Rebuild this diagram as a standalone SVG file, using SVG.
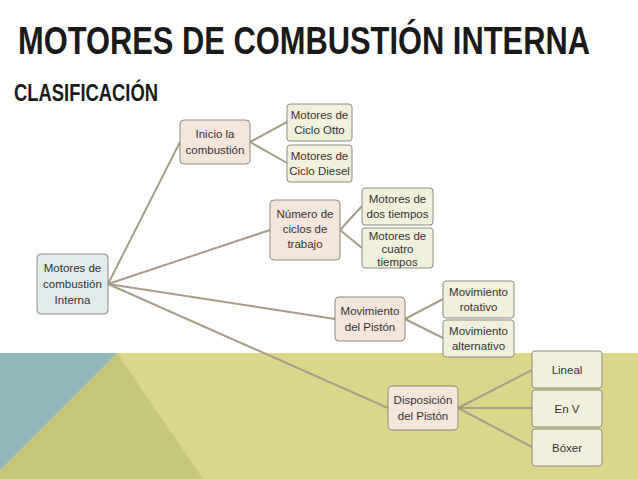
<svg xmlns="http://www.w3.org/2000/svg" width="638" height="479" viewBox="0 0 638 479">
<style>
.t{font-family:"Liberation Sans Narrow","Liberation Sans",sans-serif;font-weight:bold;fill:#1a1a1a}
.n text{font-family:"Liberation Sans Narrow","Liberation Sans",sans-serif;font-size:11.5px;fill:#333;text-anchor:middle}
.n rect{stroke:#8c8c80;stroke-width:1}
.r rect{fill:#e2ecec}.m rect{fill:#f5e6db}.l rect{fill:#f1f0db}
#c line{stroke:#a89e88;stroke-width:2}
</style>
<rect width="638" height="479" fill="#fff"/>
<rect x="0" y="353" width="638" height="126" fill="#dcd68a"/>
<polygon points="117,353 0,470 0,479 203,479" fill="#c6c67e"/>
<polygon points="0,353 117,353 0,470" fill="#93b7ba"/>
<text class="t" x="18" y="54" font-size="38" textLength="572" lengthAdjust="spacingAndGlyphs">MOTORES  DE COMBUSTIÓN INTERNA</text>
<text class="t" x="14" y="101" font-size="24" textLength="144" lengthAdjust="spacingAndGlyphs">CLASIFICACIÓN</text>
<g id="c">
<line x1="108" y1="284" x2="180" y2="142"/>
<line x1="108" y1="284" x2="270" y2="230"/>
<line x1="108" y1="284" x2="335" y2="319"/>
<line x1="108" y1="284" x2="388" y2="408"/>
<line x1="250" y1="142" x2="287" y2="122"/>
<line x1="250" y1="142" x2="287" y2="163"/>
<line x1="340" y1="230" x2="362" y2="206"/>
<line x1="340" y1="230" x2="362" y2="248"/>
<line x1="405" y1="319" x2="443" y2="299"/>
<line x1="405" y1="319" x2="443" y2="338"/>
<line x1="458" y1="408" x2="532" y2="370"/>
<line x1="458" y1="408" x2="532" y2="408"/>
<line x1="458" y1="408" x2="532" y2="447"/>
</g>
<g id="root" class="n r"><rect x="37" y="254" width="71" height="60" rx="4"/><text x="72.5" y="272">Motores de</text><text x="72.5" y="288">combustión</text><text x="72.5" y="304">Interna</text></g>
<g id="inicio" class="n m"><rect x="180" y="120" width="70" height="44" rx="4"/><text x="215" y="138">Inicio la</text><text x="215" y="154">combustión</text></g>
<g id="otto" class="n l"><rect x="287" y="104" width="65" height="37" rx="3"/><text x="319.5" y="119">Motores de</text><text x="319.5" y="134">Ciclo Otto</text></g>
<g id="diesel" class="n l"><rect x="287" y="145" width="65" height="37" rx="3"/><text x="319.5" y="160">Motores de</text><text x="319.5" y="175">Ciclo Diesel</text></g>
<g id="ciclos" class="n m"><rect x="270" y="200" width="70" height="60" rx="4"/><text x="305" y="218">Número de</text><text x="305" y="233">ciclos de</text><text x="305" y="248">trabajo</text></g>
<g id="dos" class="n l"><rect x="362" y="188" width="71" height="37" rx="3"/><text x="397.5" y="203">Motores de</text><text x="397.5" y="218">dos tiempos</text></g>
<g id="cuatro" class="n l"><rect x="362" y="228" width="71" height="40" rx="3"/><text x="397.5" y="240">Motores de</text><text x="397.5" y="253">cuatro</text><text x="397.5" y="266">tiempos</text></g>
<g id="mov" class="n m"><rect x="335" y="297" width="70" height="44" rx="4"/><text x="370" y="315">Movimiento</text><text x="370" y="331">del Pistón</text></g>
<g id="rot" class="n l"><rect x="443" y="281" width="71" height="37" rx="3"/><text x="478.5" y="296">Movimiento</text><text x="478.5" y="311">rotativo</text></g>
<g id="alt" class="n l"><rect x="443" y="320" width="71" height="37" rx="3"/><text x="478.5" y="335">Movimiento</text><text x="478.5" y="350">alternativo</text></g>
<g id="disp" class="n m"><rect x="388" y="386" width="70" height="44" rx="4"/><text x="423" y="404">Disposición</text><text x="423" y="420">del Pistón</text></g>
<g id="lineal" class="n l"><rect x="532" y="351" width="70" height="37" rx="3"/><text x="567" y="374">Lineal</text></g>
<g id="env" class="n l"><rect x="532" y="390" width="70" height="37" rx="3"/><text x="567" y="413">En V</text></g>
<g id="boxer" class="n l"><rect x="532" y="429" width="70" height="37" rx="3"/><text x="567" y="452">Bóxer</text></g>
</svg>
